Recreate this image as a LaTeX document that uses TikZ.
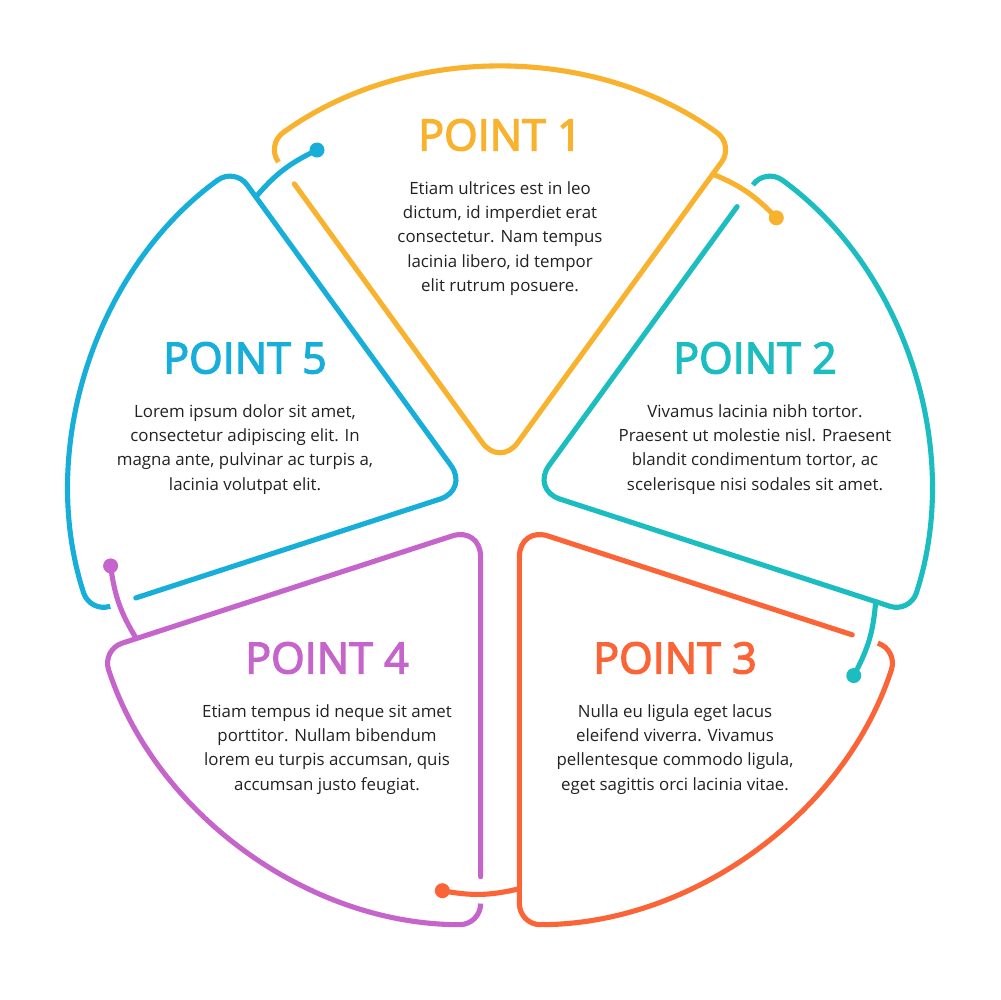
\documentclass[tikz,border=0pt]{standalone}
\usepackage{fontspec}
\setmainfont{Open Sans}
\newfontfamily\ttlfont[FakeBold=3]{Open Sans}
\definecolor{cA}{HTML}{F8B22E}
\definecolor{cB}{HTML}{1BBDC0}
\definecolor{cC}{HTML}{FA6436}
\definecolor{cD}{HTML}{C565CC}
\definecolor{cE}{HTML}{17AFD9}
\definecolor{txt}{HTML}{222222}
\tikzset{
  wedge/.style={line width=2.9pt, line cap=round},
  conn/.style={line width=2.9pt, line cap=round},
  ttl/.style={font=\ttlfont\fontsize{24.5}{28}\selectfont, anchor=center},
  body/.style={font=\fontsize{9.6}{13.9}\selectfont, color=txt, align=center, anchor=north}
}
\begin{document}
\begin{tikzpicture}[x=0.02cm,y=0.02cm]
\useasboundingbox (0,0) rectangle (1000,1000);
\fill[white] (0,0) rectangle (1000,1000);
\begin{scope}[shift={(500,500)}]
\foreach \i/\c in {1/cA,2/cB,3/cC,4/cD,5/cE}{
  \pgfmathsetmacro{\th}{90-72*(\i-1)}
  \pgfmathsetmacro{\nth}{\th-72}
  \begin{scope}[shift={(\th:33)}]
    \draw[wedge,\c,rounded corners=0.6cm] (\th+36:350) -- (0,0) [rounded corners=0.42cm] -- (\th-36:398)
      arc[start angle=\th-36, end angle=\th+36, radius=398] -- (\th+36:378);
    \coordinate (s\i) at (\th-36:362);
  \end{scope}
  \begin{scope}[shift={(\nth:33)}]
    \coordinate (d\i) at (\nth+30:366);
  \end{scope}
  \draw[conn,\c] (s\i) to[bend left=12] (d\i);
  \fill[\c] (d\i) circle (7.5);
}
\end{scope}
\node[ttl,cA] (t1) at (500,865) {POINT 1};
\node[body] (b1) at (500,825) {Etiam ultrices est in leo\\dictum, id imperdiet erat\\consectetur. Nam tempus\\lacinia libero, id tempor\\elit rutrum posuere.};
\node[ttl,cB] (t2) at (755,642) {POINT 2};
\node[body] (b2) at (755,602) {Vivamus lacinia nibh tortor.\\Praesent ut molestie nisl. Praesent\\blandit condimentum tortor, ac\\scelerisque nisi sodales sit amet.};
\node[ttl,cC] (t3) at (675,342) {POINT 3};
\node[body] (b3) at (675,302) {Nulla eu ligula eget lacus\\eleifend viverra. Vivamus\\pellentesque commodo ligula,\\eget sagittis orci lacinia vitae.};
\node[ttl,cD] (t4) at (327,342) {POINT 4};
\node[body] (b4) at (327,302) {Etiam tempus id neque sit amet\\porttitor. Nullam bibendum\\lorem eu turpis accumsan, quis\\accumsan justo feugiat.};
\node[ttl,cE] (t5) at (245,642) {POINT 5};
\node[body] (b5) at (245,602) {Lorem ipsum dolor sit amet,\\consectetur adipiscing elit. In\\magna ante, pulvinar ac turpis a,\\lacinia volutpat elit.};
\end{tikzpicture}
\end{document}
